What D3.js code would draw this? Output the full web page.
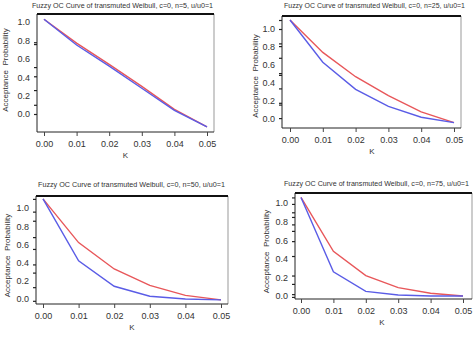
<!DOCTYPE html>
<html>
<head>
<meta charset="utf-8">
<script src="https://cdn.jsdelivr.net/npm/d3@7"></script>
<style>
  html, body { margin: 0; padding: 0; background: #fff; }
  svg { display: block; font-family: "Liberation Sans", Arial, sans-serif; }
</style>
</head>
<body>
<svg id="chart" width="474" height="338"></svg>
<script>
// K values along the x axis
const kValues = [0, 0.01, 0.02, 0.03, 0.04, 0.05];
const yLabels = [0, 0.2, 0.4, 0.6, 0.8, 1.0];

const titles = [
    'Fuzzy OC Curve of transmuted Weibull, c=0, n=5, u/u0=1',
    'Fuzzy OC Curve of transmuted Weibull, c=0, n=25, u/u0=1',
    'Fuzzy OC Curve of transmuted Weibull, c=0, n=50, u/u0=1',
    'Fuzzy OC Curve of transmuted Weibull, c=0, n=75, u/u0=1'
];

// acceptance probability, upper (red) and lower (blue) bounds
const upperN5 = [1.03, 0.77, 0.54, 0.30, 0.05, -0.14];
const lowerN5 = [1.03, 0.75, 0.52, 0.28, 0.04, -0.14];
const upperN25 = [1.10, 0.74, 0.47, 0.26, 0.08, -0.04];
const lowerN25 = [1.10, 0.63, 0.33, 0.14, 0.02, -0.04];
const upperN50 = [1.10, 0.62, 0.33, 0.15, 0.04, -0.01];
const lowerN50 = [1.10, 0.42, 0.14, 0.03, 0.00, -0.01];
const upperN75 = [1.06, 0.48, 0.22, 0.09, 0.03, 0.00];
const lowerN75 = [1.06, 0.26, 0.05, 0.01, 0.00, 0.00];

// stray minor ticks on each y axis
const minorN5 = [0.78, 0.76, 0.51, 0.41, 0.26, 0.10, 0];
const minorN25 = [1.10, 1.0, 0.84, 0.81, 0.68, 0.51, 0.49, 0.34, 0.18, 0.16, 0.01];
const minorN50 = [1.10, 0.96, 0.86, 0.68, 0.55, 0.38, 0.29, 0.13, -0.02];
const minorN75 = [1.06, 0.99, 0.90, 0.85, 0.77, 0.70, 0.59, 0.43, 0.22, 0.13, 0.02, -0.01];

const panels = [
    { title: titles[0], upper: upperN5, lower: lowerN5, minor: minorN5,
      left: 37, right: 214, top: 14, bottom: 132, x0: 44, x1: 207, y0: 114, y1: 22,
      titleX: 32, titleW: 181, titleY: 8, yTitleX: 8 },
    { title: titles[1], upper: upperN25, lower: lowerN25, minor: minorN25,
      left: 282, right: 461, top: 16, bottom: 128, x0: 290, x1: 454, y0: 119, y1: 29,
      titleX: 284, titleW: 181, titleY: 8, yTitleX: 258 },
    { title: titles[2], upper: upperN50, lower: lowerN50, minor: minorN50,
      left: 36, right: 228, top: 196, bottom: 304, x0: 43, x1: 221, y0: 299, y1: 208,
      titleX: 38, titleW: 187, titleY: 187, yTitleX: 10 },
    { title: titles[3], upper: upperN75, lower: lowerN75, minor: minorN75,
      left: 295, right: 472, top: 193, bottom: 299, x0: 301, x1: 463, y0: 296, y1: 203,
      titleX: 284, titleW: 185, titleY: 186, yTitleX: 269 }
];

const svg = d3.select('#chart');

panels.forEach(p => {
    const g = svg.append('g');

    const x = d3.scaleLinear().domain([0, 0.05]).range([p.x0, p.x1]);
    const y = d3.scaleLinear().domain([0, 1]).range([p.y0, p.y1]);

    // title
    g.append('text')
        .attr('x', p.titleX)
        .attr('y', p.titleY)
        .attr('textLength', p.titleW)
        .attr('lengthAdjust', 'spacingAndGlyphs')
        .style('font-size', '7px')
        .attr('fill', '#333')
        .text(p.title);

    // frame
    g.append('line').attr('x1', p.right).attr('x2', p.right).attr('y1', p.top).attr('y2', p.bottom)
        .attr('stroke', '#999').attr('stroke-width', 1);
    g.append('line').attr('x1', p.left).attr('x2', p.left).attr('y1', p.top).attr('y2', p.bottom)
        .attr('stroke', '#222').attr('stroke-width', 1);
    g.append('line').attr('x1', p.left).attr('x2', p.right).attr('y1', p.top).attr('y2', p.top)
        .attr('stroke', '#111').attr('stroke-width', 2);

    // x axis
    const xAxis = g.append('g')
        .attr('transform', `translate(0,${p.bottom})`)
        .call(d3.axisBottom(x).tickValues(kValues).tickSize(4).tickPadding(5).tickFormat(d3.format('.2f')));
    xAxis.select('.domain').attr('d', `M${p.left},0H${p.right}`).attr('stroke', '#222');
    xAxis.selectAll('.tick line').attr('stroke', '#444');
    xAxis.selectAll('text').style('font-size', '9px').attr('fill', '#333').style('font-family', 'inherit');

    // y axis labels and minor ticks
    const yAxis = g.append('g')
        .attr('transform', `translate(${p.left},0)`)
        .call(d3.axisLeft(y).tickValues(yLabels).tickSize(0).tickPadding(7).tickFormat(d3.format('.1f')));
    yAxis.select('.domain').remove();
    yAxis.selectAll('text').style('font-size', '9px').attr('fill', '#333').style('font-family', 'inherit');

    const yMinor = g.append('g')
        .attr('transform', `translate(${p.left},0)`)
        .call(d3.axisLeft(y).tickValues(p.minor).tickSize(3).tickFormat(''));
    yMinor.select('.domain').remove();
    yMinor.selectAll('.tick line').attr('stroke', '#222').attr('stroke-width', 1.2);

    // axis titles
    g.append('text')
        .attr('x', (p.x0 + p.x1) / 2)
        .attr('y', p.bottom + 26)
        .attr('text-anchor', 'middle')
        .style('font-size', '8px')
        .attr('fill', '#333')
        .text('K');

    g.append('text')
        .attr('transform', `translate(${p.yTitleX},${(p.y0 + p.y1) / 2 + 2}) rotate(-90)`)
        .attr('text-anchor', 'middle')
        .style('font-size', '8px')
        .style('white-space', 'pre')
        .attr('fill', '#333')
        .text('Acceptance  Probability');

    // curves
    const line = d3.line()
        .x((d, i) => x(kValues[i]))
        .y(d => y(d));

    g.append('path')
        .datum(p.upper)
        .attr('d', line)
        .attr('fill', 'none')
        .attr('stroke', '#e8575a')
        .attr('stroke-width', 1.4);

    g.append('path')
        .datum(p.lower)
        .attr('d', line)
        .attr('fill', 'none')
        .attr('stroke', '#5a5ce6')
        .attr('stroke-width', 1.4);
});
</script>
</body>
</html>
